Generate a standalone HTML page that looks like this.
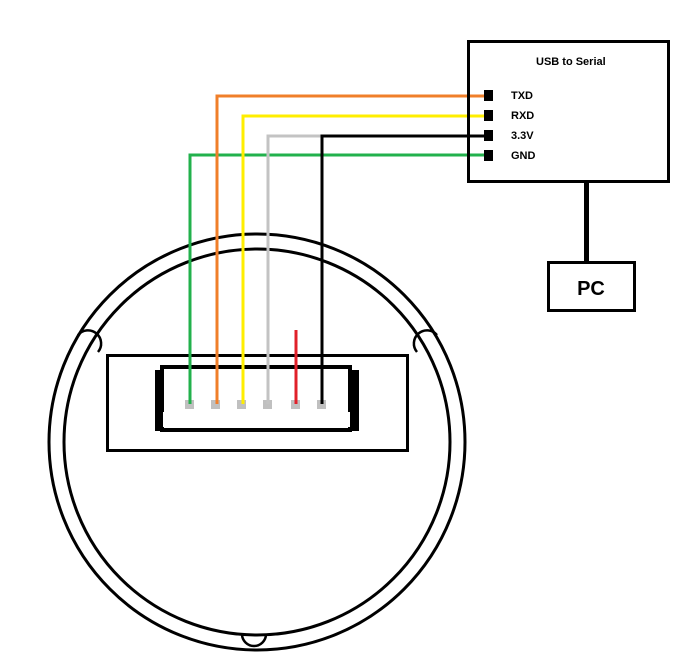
<!DOCTYPE html>
<html><head><style>body{margin:0;background:#fff}</style></head><body>
<svg width="700" height="666" xmlns="http://www.w3.org/2000/svg" style="display:block">
<rect width="700" height="666" fill="#fff"/>
<circle cx="257" cy="442" r="208" fill="none" stroke="#000" stroke-width="3"/>
<circle cx="257" cy="442" r="193" fill="none" stroke="#000" stroke-width="3"/>
<path d="M78 335 A12 12 0 0 1 98 352" fill="none" stroke="#000" stroke-width="2.5"/>
<path d="M437 335 A12 12 0 0 0 417 352" fill="none" stroke="#000" stroke-width="2.5"/>
<path d="M242 634 A12 12 0 0 0 266 634" fill="none" stroke="#000" stroke-width="2.5"/>
<rect x="107.5" y="355.5" width="300" height="95" fill="#fff" stroke="#000" stroke-width="3"/>
<rect x="162" y="367" width="188" height="63" fill="#fff" stroke="#000" stroke-width="4"/>
<rect x="155" y="370" width="8" height="61" fill="#000"/>
<rect x="350" y="370" width="9" height="61" fill="#000"/>
<rect x="163" y="412" width="187" height="15" fill="#fff"/>
<g fill="#c0c0c0"><rect x="185" y="400" width="9" height="9"/><rect x="211" y="400" width="9" height="9"/><rect x="237" y="400" width="9" height="9"/><rect x="263" y="400" width="9" height="9"/><rect x="291" y="400" width="9" height="9"/><rect x="317" y="400" width="9" height="9"/></g>
<g fill="none" stroke-width="3">
<polyline points="190,404 190,155 488,155" stroke="#22b14c"/>
<polyline points="217,404 217,96 488,96" stroke="#f07f2a"/>
<polyline points="243,404 243,116 488,116" stroke="#ffee00"/>
<polyline points="268,404 268,136 322,136" stroke="#c3c3c3"/>
<polyline points="322,404 322,136 488,136" stroke="#000"/>
<line x1="296" y1="330" x2="296" y2="404" stroke="#e0202a"/>
</g>
<g fill="#000"><rect x="484" y="90" width="9" height="11"/><rect x="484" y="110" width="9" height="11"/><rect x="484" y="130" width="9" height="11"/><rect x="484" y="150" width="9" height="11"/></g>
<rect x="468.5" y="41.5" width="200" height="140" fill="none" stroke="#000" stroke-width="3"/>
<g font-family="Liberation Sans, sans-serif" font-weight="bold" font-size="11" fill="#000">
<text x="536" y="65">USB to Serial</text>
<text x="511" y="99">TXD</text>
<text x="511" y="119">RXD</text>
<text x="511" y="139">3.3V</text>
<text x="511" y="159">GND</text>
</g>
<rect x="584" y="182" width="5" height="80" fill="#000"/>
<rect x="548.5" y="262.5" width="86" height="48" fill="#fff" stroke="#000" stroke-width="3"/>
<text x="591" y="295" text-anchor="middle" font-family="Liberation Sans, sans-serif" font-weight="bold" font-size="20">PC</text>
</svg>
</body></html>
